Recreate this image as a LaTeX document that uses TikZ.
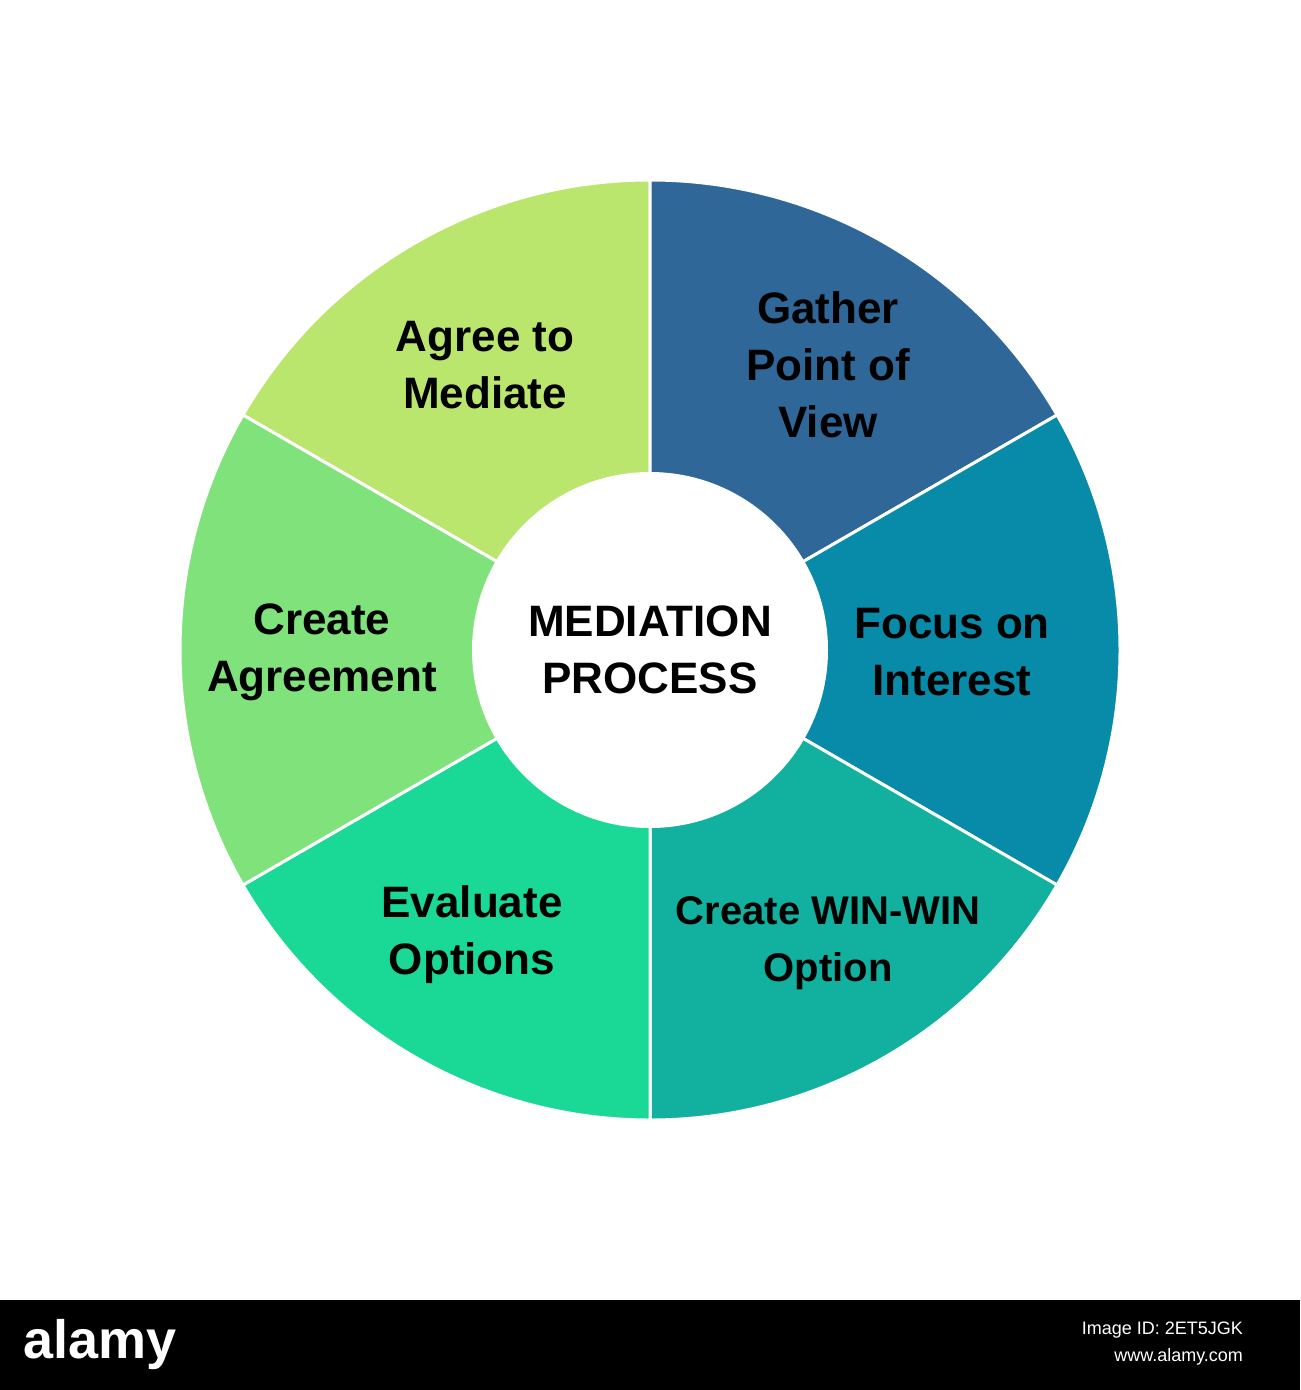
\documentclass[tikz,border=0pt]{standalone}
\usepackage{fontspec}
\setmainfont{Liberation Sans}
\definecolor{cA}{HTML}{BAE66E}
\definecolor{cB}{HTML}{2E6798}
\definecolor{cC}{HTML}{078BA8}
\definecolor{cD}{HTML}{11B09F}
\definecolor{cE}{HTML}{1AD996}
\definecolor{cF}{HTML}{80E27A}
\begin{document}
\begin{tikzpicture}[x=0.5pt,y=-0.5pt,
  sector/.style={draw=white,line width=1.5pt},
  lbl/.style={font=\bfseries\fontsize{22}{28.5}\selectfont,align=center,text=black}]
\useasboundingbox (0,0) rectangle (1300,1390);
\fill[white] (0,0) rectangle (1300,1390);
\coordinate (c) at (650,650);
\foreach \a/\b/\col in {90/150/cA,30/90/cB,-30/30/cC,-90/-30/cD,-150/-90/cE,150/210/cF}{
  \fill[\col,sector] (c) ++(\a:235pt) arc[start angle=\a,end angle=\b,radius=235pt] -- (c) -- cycle;
}
\fill[white] (c) circle (89pt);
\node[lbl] (n1) at (485,365) {Agree to\\Mediate};
\node[lbl] (n2) at (828,365) {Gather\\Point of\\View};
\node[lbl] (n3) at (952,652) {Focus on\\Interest};
\node[lbl,font=\bfseries\fontsize{20}{28.5}\selectfont] (n4) at (828,943) {Create WIN-WIN\\Option};
\node[lbl] (n5) at (472,935) {Evaluate\\Options};
\node[lbl] (n6) at (322,652) {Create\\Agreement};
\node[lbl] (n0) at (650,650) {MEDIATION\\PROCESS};
\fill[black] (0,1300) rectangle (1300,1390);
\node[text=white,font=\bfseries\fontsize{27}{30}\selectfont] (w1) at (100,1345) {alamy};
\node[text=white,font=\fontsize{9}{11}\selectfont,anchor=east] (w2) at (1250,1330) {Image ID: 2ET5JGK};
\node[text=white,font=\fontsize{9}{11}\selectfont,anchor=east] (w3) at (1250,1357) {www.alamy.com};
\end{tikzpicture}
\end{document}
